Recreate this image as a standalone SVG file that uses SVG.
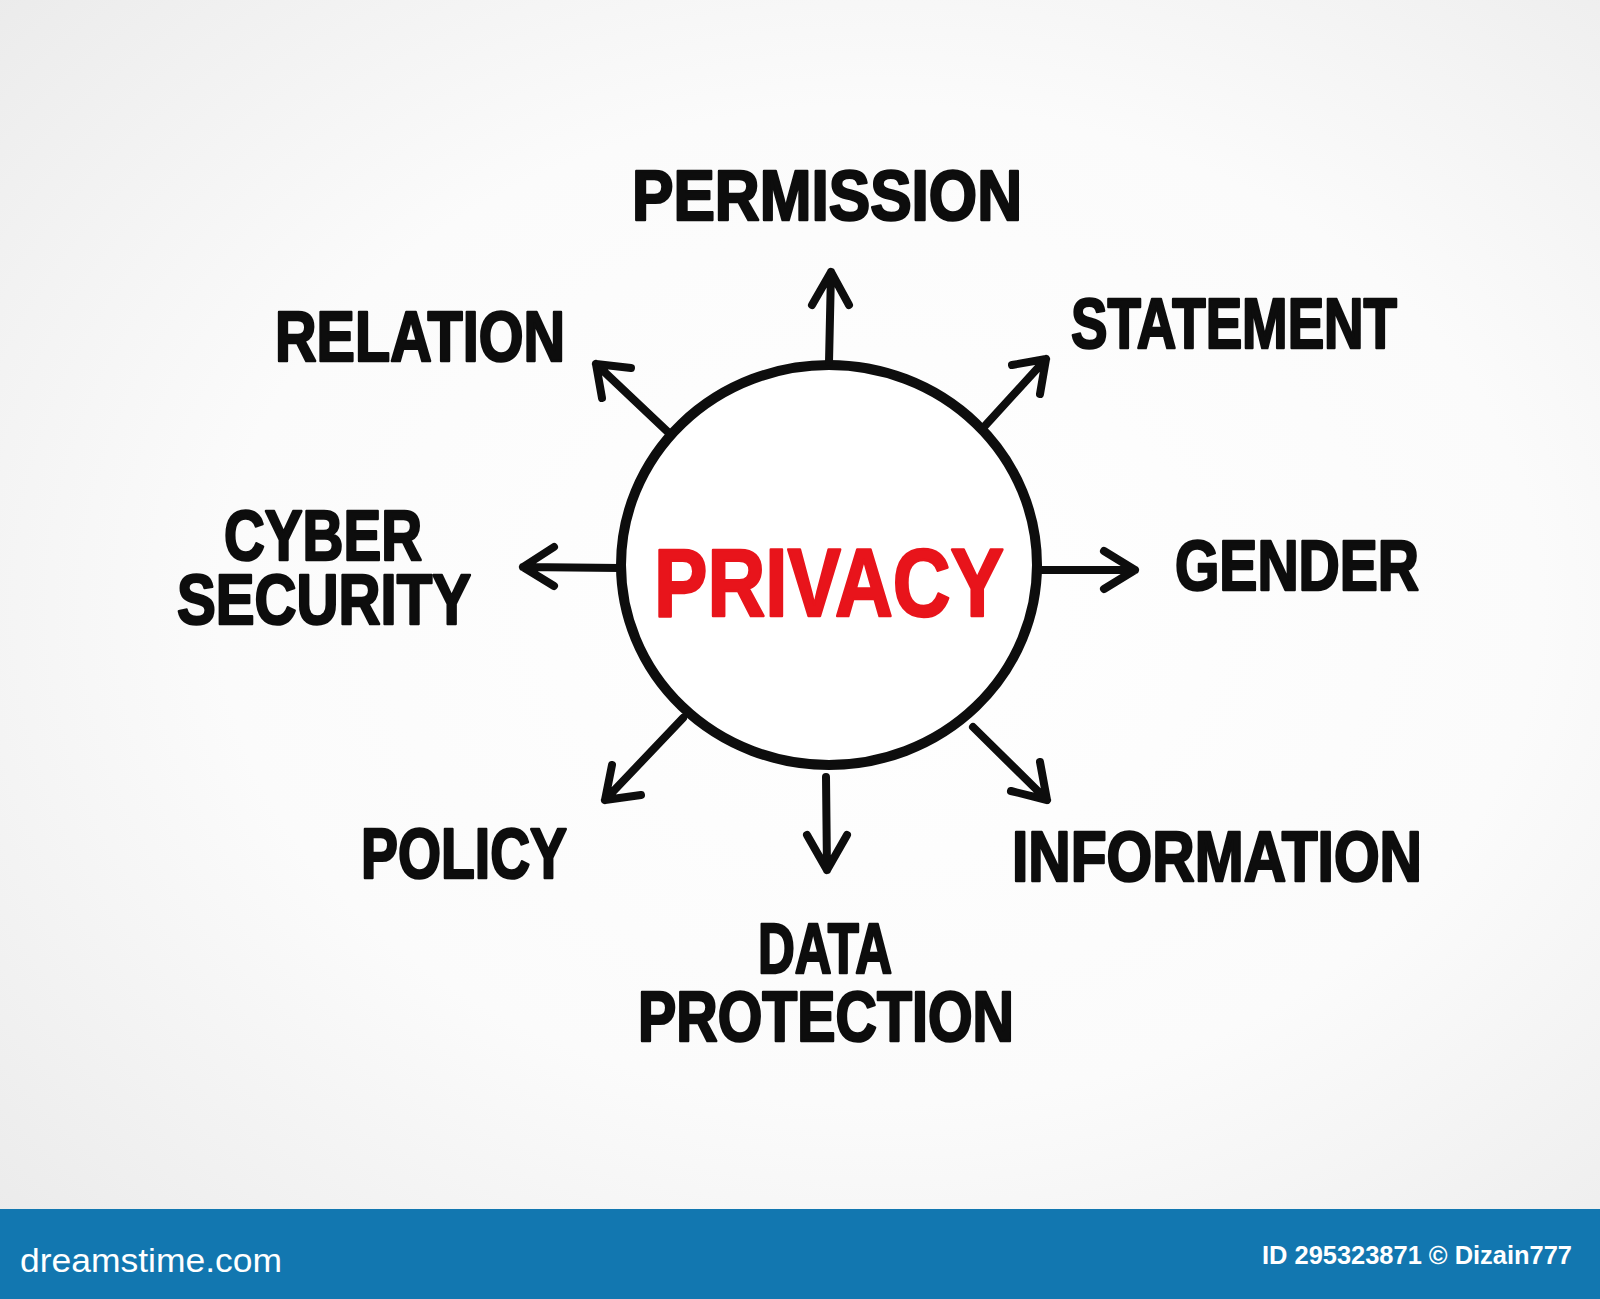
<svg xmlns="http://www.w3.org/2000/svg" width="1600" height="1299" viewBox="0 0 1600 1299">
<defs>
<radialGradient id="bg" cx="0.55" cy="0.5" r="0.75">
<stop offset="0" stop-color="#ffffff"/>
<stop offset="0.55" stop-color="#fbfbfb"/>
<stop offset="1" stop-color="#ebebeb"/>
</radialGradient>
<style>
.lbl{font-family:"Liberation Sans","DejaVu Sans",sans-serif;font-weight:bold;font-size:71px;fill:#0d0d0d;stroke:#0d0d0d;stroke-width:2.5;stroke-linejoin:round;text-anchor:middle}
.main{font-family:"Liberation Sans","DejaVu Sans",sans-serif;font-weight:bold;font-size:96px;fill:#e8141b;stroke:#e8141b;stroke-width:2.5;stroke-linejoin:round;text-anchor:middle}
.ln{fill:none;stroke:#0d0d0d;stroke-width:8;stroke-linecap:round;stroke-linejoin:round}
.ft{font-family:"Liberation Sans","DejaVu Sans",sans-serif;fill:#ffffff}
</style>
</defs>
<rect x="0" y="0" width="1600" height="1210" fill="url(#bg)"/>
<rect x="0" y="1209" width="1600" height="90" fill="#1277b0"/>
<text class="ft" x="20" y="1272" font-size="33" textLength="262" lengthAdjust="spacingAndGlyphs">dreamstime.com</text>
<text class="ft" x="1572" y="1264" font-size="25" font-weight="bold" text-anchor="end" textLength="310" lengthAdjust="spacingAndGlyphs">ID 295323871 © Dizain777</text>

<g id="center">
<ellipse cx="829" cy="565" rx="208" ry="200" fill="#ffffff" stroke="#0d0d0d" stroke-width="10"/>
<text class="main" x="829" y="616" textLength="350" lengthAdjust="spacingAndGlyphs">PRIVACY</text>
</g>

<g id="connectors">
<path class="ln" d="M829 362 L831 272 M812 305 L831 272 L849 305"/>
<path class="ln" d="M983 428 L1046 359 M1012 365 L1046 359 L1040 394"/>
<path class="ln" d="M1040 570 L1135 570 M1104 551 L1135 570 L1104 589"/>
<path class="ln" d="M620 568 L523 567 M554 547 L523 567 L554 586"/>
<path class="ln" d="M670 434 L596 364 M602 398 L596 364 L631 368"/>
<path class="ln" d="M683 718 L605 800 M612 765 L605 800 L641 795"/>
<path class="ln" d="M826 777 L827 870 M807 835 L827 870 L847 835"/>
<path class="ln" d="M973 727 L1047 800 M1011 791 L1047 800 L1040 762"/>
</g>

<g id="permission"><text class="lbl" x="827" y="220" textLength="390" lengthAdjust="spacingAndGlyphs">PERMISSION</text></g>
<g id="statement"><text class="lbl" x="1234" y="348" textLength="326" lengthAdjust="spacingAndGlyphs">STATEMENT</text></g>
<g id="relation"><text class="lbl" x="420" y="361" textLength="290" lengthAdjust="spacingAndGlyphs">RELATION</text></g>
<g id="cyber-security">
<text class="lbl" x="323" y="560" textLength="198" lengthAdjust="spacingAndGlyphs">CYBER</text>
<text class="lbl" x="324" y="624" textLength="294" lengthAdjust="spacingAndGlyphs">SECURITY</text>
</g>
<g id="gender"><text class="lbl" x="1297" y="590" textLength="244" lengthAdjust="spacingAndGlyphs">GENDER</text></g>
<g id="policy"><text class="lbl" x="464" y="878" textLength="206" lengthAdjust="spacingAndGlyphs">POLICY</text></g>
<g id="information"><text class="lbl" x="1217" y="881" textLength="410" lengthAdjust="spacingAndGlyphs">INFORMATION</text></g>
<g id="data-protection">
<text class="lbl" x="825" y="973" textLength="134" lengthAdjust="spacingAndGlyphs">DATA</text>
<text class="lbl" x="826" y="1041" textLength="376" lengthAdjust="spacingAndGlyphs">PROTECTION</text>
</g>
</svg>
